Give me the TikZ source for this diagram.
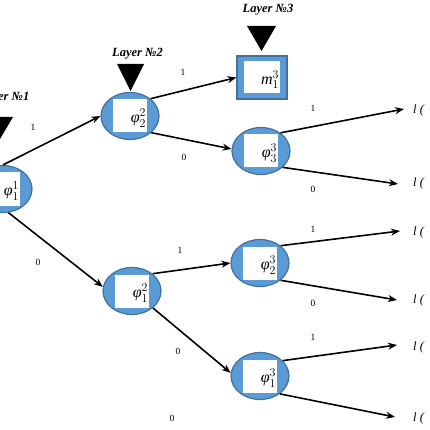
\documentclass[tikz,border=0pt]{standalone}
\usepackage{fontspec}
\setmainfont{Liberation Serif}
\usetikzlibrary{shapes.geometric,arrows.meta}
\definecolor{nodeblue}{HTML}{5B9BD5}
\definecolor{nodeedge}{HTML}{41719C}
\DeclareMathSizes{16}{16}{11.5}{9}
\newcommand{\phv}{\mbox{\itshape φ}}
\begin{document}
\begin{tikzpicture}[x=1pt,y=-1pt,
  state/.style={ellipse, fill=nodeblue, draw=nodeedge, line width=1.2pt, minimum width=58pt, minimum height=47pt, inner sep=0pt},
  inbox/.style={fill=white, minimum width=34pt, minimum height=33pt, inner sep=0pt},
  lbl/.style={font=\fontsize{16}{16}\selectfont, anchor=east, inner sep=0pt},
  arr/.style={line width=1.6pt, -{Stealth[length=9pt,width=7pt]}},
  bit/.style={font=\fontsize{9.5}{10}\selectfont, inner sep=0pt},
  layer/.style={font=\fontsize{12.5}{13}\selectfont\bfseries\itshape, inner sep=0pt},
  outl/.style={font=\fontsize{12.5}{13}\selectfont\itshape, anchor=west, inner sep=0pt}]
\useasboundingbox (0,0) rectangle (430,430);

% state nodes
\node[state] (n11) at (3,189) {};
\node[inbox] (w11) at (n11) {};
\node[lbl] (t11) at ([shift={(-1,2)}]w11.east) {$\phv_1^1$};

\node[state] (n22) at (130,116) {};
\node[inbox] (w22) at (n22) {};
\node[lbl] (t22) at ([shift={(-1,2)}]w22.east) {$\phv_2^2$};

\node[state] (n12) at (132,291) {};
\node[inbox] (w12) at (n12) {};
\node[lbl] (t12) at ([shift={(-1,2)}]w12.east) {$\phv_1^2$};

\node[state] (n33) at (261,151) {};
\node[inbox] (w33) at (n33) {};
\node[lbl] (t33) at ([shift={(-1,2)}]w33.east) {$\phv_3^3$};

\node[state] (n23) at (260,263) {};
\node[inbox] (w23) at (n23) {};
\node[lbl] (t23) at ([shift={(-1,2)}]w23.east) {$\phv_2^3$};

\node[state] (n13) at (260,376) {};
\node[inbox] (w13) at (n13) {};
\node[lbl] (t13) at ([shift={(-1,2)}]w13.east) {$\phv_1^3$};

% terminal box
\node[fill=nodeblue, draw=nodeedge, line width=1.2pt, minimum width=50pt, minimum height=43pt, inner sep=0pt] (m13) at (262,77.5) {};
\node[fill=white, minimum width=36pt, minimum height=32pt, inner sep=0pt] (wm13) at (m13) {};
\node[lbl] (tm13) at ([shift={(-1,2)}]wm13.east) {$\mbox{\itshape m}_1^3$};

% layer markers
\fill (-14,117) -- (13,117) -- (0,139) -- cycle;
\fill (117,64) -- (144,64) -- (130.5,91) -- cycle;
\fill (247,26) -- (276,26) -- (261.5,51) -- cycle;
\node[layer] (L1) at (4,98) {Layer №1};
\node[layer] (L2) at (137.5,54) {Layer №2};
\node[layer] (L3) at (268,10) {Layer №3};

% free ends
\coordinate (e1) at (404,109);
\coordinate (e2) at (398,184);
\coordinate (e3) at (400,231);
\coordinate (e4) at (397,300);
\coordinate (e5) at (397,345);
\coordinate (e6) at (395,417);

% connectors
\draw[arr] (n11.north) -- (n22.west);
\draw[arr] (n11.-77) -- (n12.172);
\draw[arr] (n22.40) -- (m13.west);
\draw[arr] (n22.-38) -- (n33.176);
\draw[arr] (n33.43) -- (e1);
\draw[arr] (n33.-37) -- (e2);
\draw[arr] (n12.40) -- (n23.west);
\draw[arr] (n12.-39) -- (n13.174);
\draw[arr] (n23.40) -- (e3);
\draw[arr] (n23.-40) -- (e4);
\draw[arr] (n13.34) -- (e5);
\draw[arr] (n13.-42) -- (e6);

% bit labels
\node[bit] (b1) at (33,127) {1};
\node[bit] (b2) at (38,262) {0};
\node[bit] (b3) at (183,72) {1};
\node[bit] (b4) at (184,157) {0};
\node[bit] (b5) at (313,108) {1};
\node[bit] (b6) at (313,189) {0};
\node[bit] (b7) at (180,250) {1};
\node[bit] (b8) at (178,351) {0};
\node[bit] (b9) at (313,229) {1};
\node[bit] (b10) at (313,303) {0};
\node[bit] (b11) at (313,337) {1};
\node[bit] (b12) at (172,418) {0};

% outputs
\node[outl] (o1) at (413,110) {l (};
\node[outl] (o2) at (413,183) {l (};
\node[outl] (o3) at (413,232) {l (};
\node[outl] (o4) at (413,300) {l (};
\node[outl] (o5) at (413,347) {l (};
\node[outl] (o6) at (413,418) {l (};
\end{tikzpicture}
\end{document}
